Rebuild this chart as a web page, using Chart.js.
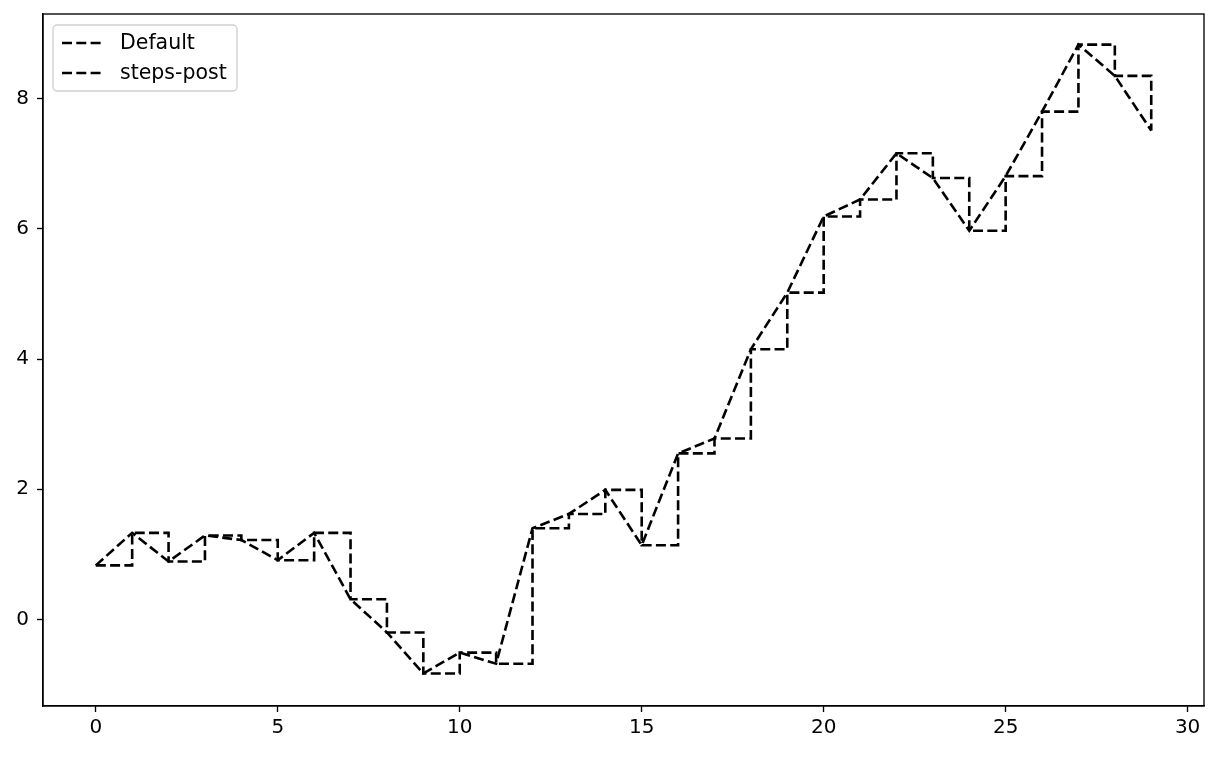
<!DOCTYPE html>
<html>
<head>
<meta charset="utf-8">
<script src="https://cdn.jsdelivr.net/npm/chart.js@4"></script>
<style>
  html, body { margin: 0; padding: 0; background: #fff; }
  #wrap { width: 1220px; height: 757px; position: relative; }
</style>
</head>
<body>
<div id="wrap"><canvas id="steps"></canvas></div>
<script>
// values
const xValues = [0, 1, 2, 3, 4, 5, 6, 7, 8, 9, 10, 11, 12, 13, 14, 15, 16, 17, 18, 19, 20, 21, 22, 23, 24, 25, 26, 27, 28, 29];
const yValues = [0.83, 1.33, 0.89, 1.29, 1.22, 0.91, 1.33, 0.31, -0.20, -0.83, -0.51, -0.68, 1.40, 1.62, 1.99, 1.14,
  2.55, 2.78, 4.15, 5.02, 6.19, 6.45, 7.16, 6.78, 5.97, 6.81, 7.80, 8.83, 8.35, 7.51];
const seriesNames = ["Default", "steps-post"];
const xTicks = [0, 5, 10, 15, 20, 25, 30];
const yTicks = [0, 2, 4, 6, 8];

const points = xValues.map((x, i) => ({ x: x, y: yValues[i] }));
const FONT = '"DejaVu Sans"';
const DASH = [10, 4.3];

const canvas = document.getElementById("steps");

new Chart(canvas, {
  type: "line",
  data: {
    datasets: [
      {
        label: seriesNames[0],
        data: points,
        borderColor: "#000",
        borderWidth: 2.6,
        borderDash: DASH,
        pointRadius: 0,
        tension: 0,
        fill: false,
      },
      {
        label: seriesNames[1],
        data: points,
        stepped: "before", // in Chart.js "before" = orizzontale poi verticale (steps-post)
        borderColor: "#000",
        borderWidth: 2.6,
        borderDash: DASH,
        pointRadius: 0,
        fill: false,
      },
    ],
  },
  options: {
    responsive: true,
    maintainAspectRatio: false,
    animation: false,
    layout: { padding: { left: 0, top: 14, right: 16, bottom: 0 } },
    plugins: {
      legend: { display: false }, // legenda disegnata a mano sotto
      tooltip: { enabled: false },
    },
    scales: {
      x: {
        type: "linear",
        min: -1.45,
        max: 30.45,
        afterBuildTicks(scale) {
          scale.ticks = xTicks.map((v) => ({ value: v }));
        },
        afterFit(scale) {
          scale.height = 51;
          scale.paddingLeft = 0;
          scale.paddingRight = 0;
        },
        grid: { drawOnChartArea: false, drawTicks: true, tickLength: 6, tickColor: "#000", tickWidth: 1.35 },
        border: { display: true, color: "#000", width: 1.35 },
        ticks: { color: "#000", font: { family: "DejaVu Sans", size: 20 }, padding: 4, maxRotation: 0 },
      },
      y: {
        type: "linear",
        min: -1.33,
        max: 9.3,
        afterBuildTicks(scale) {
          scale.ticks = yTicks.map((v) => ({ value: v }));
        },
        afterFit(scale) {
          scale.width = 43;
          scale.paddingTop = 0;
          scale.paddingBottom = 0;
        },
        grid: { drawOnChartArea: false, drawTicks: true, tickLength: 6, tickColor: "#000", tickWidth: 1.35 },
        border: { display: true, color: "#000", width: 1.35 },
        ticks: { color: "#000", font: { family: "DejaVu Sans", size: 20 }, padding: 8 },
      },
    },
  },
  plugins: [
    {
      id: "frameAndLegend",
      afterDraw(chart) {
        const ctx = chart.ctx;
        const a = chart.chartArea;
        ctx.save();
        // cornice completa come in matplotlib
        ctx.strokeStyle = "#000";
        ctx.lineWidth = 1.35;
        ctx.strokeRect(a.left, a.top, a.right - a.left, a.bottom - a.top);

        // box della legenda
        const bx = a.left + 10, by = a.top + 11, bw = 184, bh = 66, r = 4;
        ctx.beginPath();
        ctx.roundRect(bx, by, bw, bh, r);
        ctx.fillStyle = "rgba(255,255,255,0.8)";
        ctx.fill();
        ctx.strokeStyle = "#d0d0d0";
        ctx.lineWidth = 1.35;
        ctx.stroke();

        ctx.font = "20.5px " + FONT;
        ctx.textBaseline = "middle";
        ctx.textAlign = "left";
        chart.data.datasets.forEach((ds, i) => {
          const cy = by + 18 + i * 30;
          ctx.beginPath();
          ctx.setLineDash(ds.borderDash);
          ctx.lineWidth = ds.borderWidth;
          ctx.strokeStyle = ds.borderColor;
          ctx.moveTo(bx + 9, cy);
          ctx.lineTo(bx + 48, cy);
          ctx.stroke();
          ctx.setLineDash([]);
          ctx.fillStyle = "#000";
          ctx.fillText(ds.label, bx + 67, cy + 1);
        });
        ctx.restore();
      },
    },
  ],
});
</script>
</body>
</html>
